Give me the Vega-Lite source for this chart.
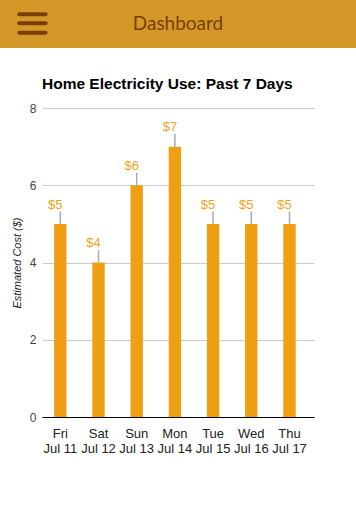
{
  "$schema": "https://vega.github.io/schema/vega-lite/v6.json",
  "padding": 0,
  "background": "white",
  "bounds": "flush",
  "center": true,
  "spacing": 60,
  "config": {"font": "Liberation Sans", "view": {"stroke": null}},
  "vconcat": [
    {
      "width": 356,
      "height": 48,
      "view": {"fill": "#D49828", "stroke": null},
      "layer": [
        {
          "data": {"values": [{"t": "Dashboard", "px": 0.5, "py": 0.5}]},
          "mark": {"type": "text", "font": "Lato", "fontSize": 19, "color": "#7A3F00", "baseline": "middle", "align": "center"},
          "encoding": {
            "x": {"field": "px", "type": "quantitative", "scale": {"domain": [0, 1]}, "axis": null},
            "y": {"field": "py", "type": "quantitative", "scale": {"domain": [0, 1], "reverse": true}, "axis": null},
            "text": {"field": "t"}
          }
        },
        {
          "data": {"values": [
            {"x0": 0.054, "x1": 0.128, "yy": 0.298},
            {"x0": 0.054, "x1": 0.128, "yy": 0.486},
            {"x0": 0.054, "x1": 0.128, "yy": 0.681}
          ]},
          "mark": {"type": "rule", "color": "#7A3F00", "strokeWidth": 4, "strokeCap": "round"},
          "encoding": {
            "x": {"field": "x0", "type": "quantitative", "scale": {"domain": [0, 1]}, "axis": null},
            "x2": {"field": "x1"},
            "y": {"field": "yy", "type": "quantitative", "scale": {"domain": [0, 1], "reverse": true}, "axis": null}
          }
        }
      ]
    },
    {
      "width": 272,
      "height": 309,
      "title": {"text": "Home Electricity Use: Past 7 Days", "anchor": "start", "frame": "group", "fontSize": 15.5, "fontWeight": "bold", "color": "#000000", "font": "Liberation Sans", "offset": 10},
      "data": {"values": [
        {"lbl": "Fri|Jul 11", "cost": 5, "high": 5.32},
        {"lbl": "Sat|Jul 12", "cost": 4, "high": 4.32},
        {"lbl": "Sun|Jul 13", "cost": 6, "high": 6.32},
        {"lbl": "Mon|Jul 14", "cost": 7, "high": 7.33},
        {"lbl": "Tue|Jul 15", "cost": 5, "high": 5.32},
        {"lbl": "Wed|Jul 16", "cost": 5, "high": 5.32},
        {"lbl": "Thu|Jul 17", "cost": 5, "high": 5.32}
      ]},
      "encoding": {
        "x": {
          "field": "lbl", "type": "nominal", "sort": null,
          "scale": {"paddingInner": 0.675, "paddingOuter": 0.398, "align": 0.398},
          "axis": {"title": null, "domainColor": "#000000", "domainWidth": 1, "ticks": false, "labelExpr": "split(datum.value, '|')", "labelColor": "#222222", "labelFontSize": 13, "labelLineHeight": 15, "labelPadding": 10, "labelAngle": 0}
        }
      },
      "layer": [
        {
          "mark": {"type": "bar", "color": "#EE9F12"},
          "encoding": {
            "y": {
              "field": "cost", "type": "quantitative", "scale": {"domain": [0, 8]},
              "axis": {"title": "Estimated Cost ($)", "values": [0, 2, 4, 6, 8], "domain": false, "ticks": false, "gridColor": "#cccccc", "labelColor": "#444444", "labelFontSize": 12, "labelPadding": 6, "titleFontStyle": "italic", "titleFontWeight": "normal", "titleFontSize": 11, "titleColor": "#222222", "titlePadding": 7}
            }
          }
        },
        {
          "mark": {"type": "rule", "color": "#aaaaaa", "strokeWidth": 1.5},
          "encoding": {
            "y": {"field": "cost", "type": "quantitative"},
            "y2": {"field": "high"}
          }
        },
        {
          "mark": {"type": "text", "color": "#F0A31A", "fontSize": 13, "dx": -5, "dy": -3, "baseline": "alphabetical", "align": "center"},
          "encoding": {
            "y": {"field": "high", "type": "quantitative"},
            "text": {"field": "cost", "type": "quantitative", "format": "$.0f"}
          }
        }
      ]
    }
  ]
}
